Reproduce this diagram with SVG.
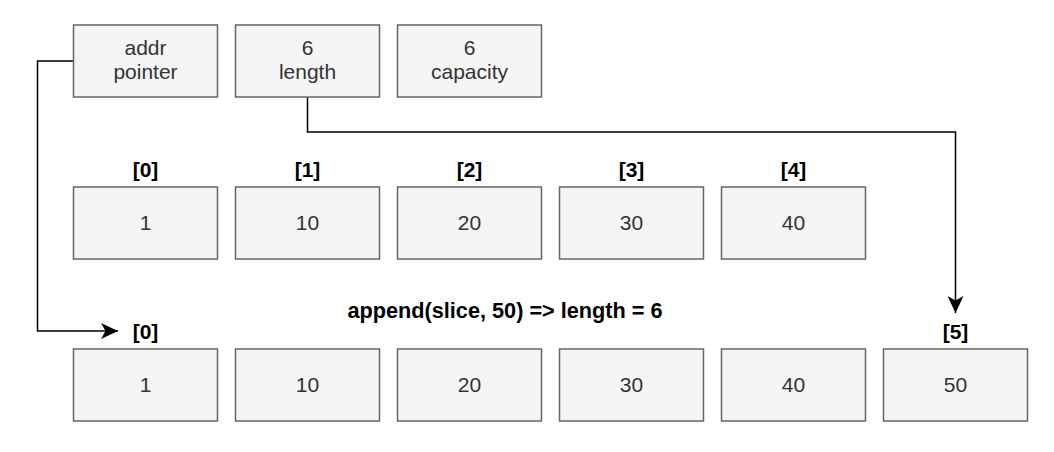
<svg xmlns="http://www.w3.org/2000/svg" width="1054" height="452" viewBox="0 0 1054 452">
<defs>
<style>
.box{fill:#f5f5f5;stroke:#666666;stroke-width:1.5}
.t{font-family:"Liberation Sans",Arial,sans-serif;font-size:21px;fill:#333333;text-anchor:middle}
.l{font-family:"Liberation Sans",Arial,sans-serif;font-size:21px;font-weight:bold;fill:#000000;text-anchor:middle}
.edge{fill:none;stroke:#000000;stroke-width:1.5}
</style>
<marker id="arr" viewBox="0 0 17 16" refX="17" refY="8" markerWidth="17" markerHeight="16" markerUnits="userSpaceOnUse" orient="auto">
<path d="M0,0 L17,8 L0,16 L4.5,8 Z" fill="#000000"/>
</marker>
</defs>
<rect width="1054" height="452" fill="#ffffff"/>
<g id="connectors">
<path class="edge" d="M73.5,61 H37.5 V331 H118" marker-end="url(#arr)"/>
<path class="edge" d="M307.5,97 V132 H955.5 V313" marker-end="url(#arr)"/>
</g>
<g id="pointer"><rect class="box" x="73.5" y="25" width="144" height="72"/><text class="t" x="145.5" y="54.5">addr</text><text class="t" x="145.5" y="79">pointer</text></g>
<g id="length"><rect class="box" x="235.5" y="25" width="144" height="72"/><text class="t" x="307.5" y="54.5">6</text><text class="t" x="307.5" y="79">length</text></g>
<g id="capacity"><rect class="box" x="397.5" y="25" width="144" height="72"/><text class="t" x="469.5" y="54.5">6</text><text class="t" x="469.5" y="79">capacity</text></g>
<g id="labels-row1">
<text class="l" x="145.5" y="177">[0]</text>
<text class="l" x="307.5" y="177">[1]</text>
<text class="l" x="469.5" y="177">[2]</text>
<text class="l" x="631.5" y="177">[3]</text>
<text class="l" x="793.5" y="177">[4]</text>
</g>
<g id="a0"><rect class="box" x="73.5" y="187" width="144" height="72"/><text class="t" x="145.5" y="230">1</text></g>
<g id="a1"><rect class="box" x="235.5" y="187" width="144" height="72"/><text class="t" x="307.5" y="230">10</text></g>
<g id="a2"><rect class="box" x="397.5" y="187" width="144" height="72"/><text class="t" x="469.5" y="230">20</text></g>
<g id="a3"><rect class="box" x="559.5" y="187" width="144" height="72"/><text class="t" x="631.5" y="230">30</text></g>
<g id="a4"><rect class="box" x="721.5" y="187" width="144" height="72"/><text class="t" x="793.5" y="230">40</text></g>
<g id="title"><text class="l" x="505" y="318" style="font-size:21.7px">append(slice, 50) =&gt; length = 6</text></g>
<g id="labels-row2">
<text class="l" x="145.5" y="339">[0]</text>
<text class="l" x="955.5" y="339">[5]</text>
</g>
<g id="b0"><rect class="box" x="73.5" y="349" width="144" height="72"/><text class="t" x="145.5" y="392">1</text></g>
<g id="b1"><rect class="box" x="235.5" y="349" width="144" height="72"/><text class="t" x="307.5" y="392">10</text></g>
<g id="b2"><rect class="box" x="397.5" y="349" width="144" height="72"/><text class="t" x="469.5" y="392">20</text></g>
<g id="b3"><rect class="box" x="559.5" y="349" width="144" height="72"/><text class="t" x="631.5" y="392">30</text></g>
<g id="b4"><rect class="box" x="721.5" y="349" width="144" height="72"/><text class="t" x="793.5" y="392">40</text></g>
<g id="b5"><rect class="box" x="883.5" y="349" width="144" height="72"/><text class="t" x="955.5" y="392">50</text></g>
</svg>
